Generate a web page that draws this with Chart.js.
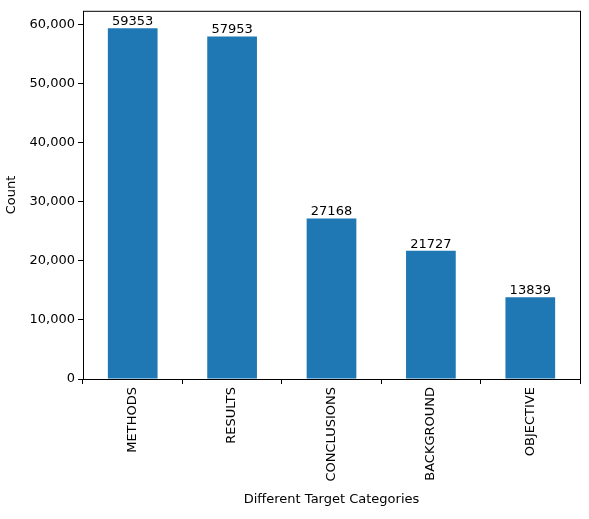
<!DOCTYPE html>
<html>
<head>
<script src="https://cdn.jsdelivr.net/npm/chart.js@4"></script>
<style>
  body { margin: 0; background: #fff; }
  #wrap { width: 589px; height: 519px; }
</style>
</head>
<body>
<div id="wrap"><canvas id="c"></canvas></div>
<script>
const categories = ['METHODS', 'RESULTS', 'CONCLUSIONS', 'BACKGROUND', 'OBJECTIVE'];
const counts = [59353, 57953, 27168, 21727, 13839];
const yTicks = [0, 10000, 20000, 30000, 40000, 50000, 60000];

const font = { family: 'DejaVu Sans', size: 13 };

// value labels on top of bars + frame around plot
const barLabels = {
    id: 'barLabels',
    afterDatasetsDraw(chart) {
        let ctx = chart.ctx;
        let meta = chart.getDatasetMeta(0);
        ctx.save();
        ctx.fillStyle = '#000';
        ctx.font = '13px "DejaVu Sans"';
        ctx.textAlign = 'center';
        ctx.textBaseline = 'bottom';
        meta.data.forEach((bar, i) => {
            ctx.fillText(String(counts[i]), bar.x, bar.y);
        });
        let a = chart.chartArea;
        ctx.strokeStyle = '#000';
        ctx.lineWidth = 1;
        ctx.strokeRect(a.left + 0.5, a.top + 0.5, a.right - a.left, a.bottom - a.top);
        ctx.restore();
    }
};

new Chart(document.getElementById('c'), {
    type: 'bar',
    data: {
        labels: categories,
        datasets: [{
            data: counts,
            backgroundColor: '#1f77b4',
            barPercentage: 0.5,
            categoryPercentage: 1.0
        }]
    },
    options: {
        responsive: true,
        maintainAspectRatio: false,
        animation: false,
        layout: { padding: { top: 9, right: 9, left: 0, bottom: 8 } },
        plugins: { legend: { display: false }, tooltip: { enabled: false } },
        scales: {
            x: {
                grid: { drawOnChartArea: false, drawTicks: true, tickLength: 5, color: '#000' },
                border: { display: false },
                ticks: { color: '#000', font: font, maxRotation: 90, minRotation: 90 },
                title: { display: true, text: 'Different Target Categories', color: '#000', font: font, padding: { top: 4 } },
                afterFit(scale) { scale.height = 132; }
            },
            y: {
                min: 0,
                max: 62320,
                grid: { drawOnChartArea: false, drawTicks: true, tickLength: 5, color: '#000' },
                border: { display: false },
                afterBuildTicks(scale) { scale.ticks = yTicks.map(v => ({ value: v })); },
                ticks: { color: '#000', font: font },
                title: { display: true, text: 'Count', color: '#000', font: font },
                afterFit(scale) { scale.width = 83; }
            }
        }
    },
    plugins: [barLabels]
});
</script>
</body>
</html>
